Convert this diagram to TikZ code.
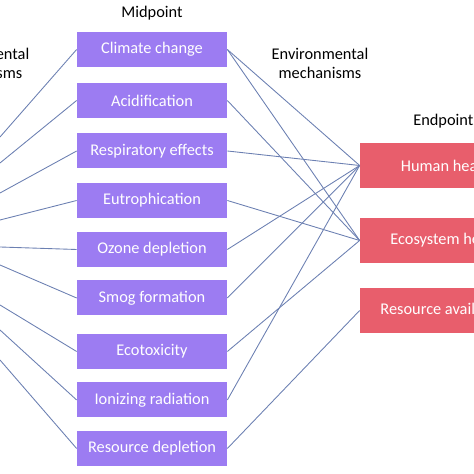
\documentclass[tikz,border=0pt]{standalone}
\usepackage{fontspec}
\setmainfont{Carlito}
\usepackage{tikz}
\definecolor{midpurple}{RGB}{156,124,242}
\definecolor{endred}{RGB}{232,94,108}
\definecolor{linkblue}{RGB}{108,128,178}
\tikzset{
	midnode/.style={rectangle, fill=midpurple, text=white, minimum width=3cm, minimum height=0.7cm, inner sep=0pt, font=\fontsize{9.3pt}{10.8pt}\selectfont},
	endnode/.style={rectangle, fill=endred, text=white, minimum width=3.52cm, minimum height=0.9cm, inner sep=0pt, font=\fontsize{9.3pt}{10.8pt}\selectfont},
	headnode/.style={align=center, font=\fontsize{9.3pt}{10.8pt}\selectfont}
}
\begin{document}
\begin{tikzpicture}
			\useasboundingbox (0,0) rectangle (9.48,9.48);
			\clip (0,0) rectangle (9.48,9.48);
			
			\node[headnode] (midhead) at (3.04,9.22) {Midpoint};
			\node[headnode] (envright) at (6.4,8.21) {Environmental\\mechanisms};
			\node[headnode] (envleft) at (-0.38,8.21) {Environmental\\mechanisms};
			\node[headnode] (endhead) at (8.93,7.06) {Endpoints};
			
			\node[midnode] (climate) at (3.04,8.49) {Climate change};
			\node[midnode] (acid) at (3.04,7.47) {Acidification};
			\node[midnode] (resp) at (3.04,6.46) {Respiratory effects};
			\node[midnode] (eutro) at (3.04,5.47) {Eutrophication};
			\node[midnode] (ozone) at (3.04,4.49) {Ozone depletion};
			\node[midnode] (smog) at (3.04,3.52) {Smog formation};
			\node[midnode] (ecotox) at (3.04,2.45) {Ecotoxicity};
			\node[midnode] (ioniz) at (3.04,1.48) {Ionizing radiation};
			\node[midnode] (resdep) at (3.04,0.51) {Resource depletion};
			
			\node[endnode] (human) at (8.96,6.17) {Human health};
			\node[endnode] (ecosys) at (8.96,4.67) {Ecosystem health};
			\node[endnode] (resav) at (8.96,3.27) {Resource availability};
			
			\coordinate (l1) at (0,6.74);
			\coordinate (l2) at (0,6.22);
			\coordinate (l3) at (0,5.62);
			\coordinate (l4) at (0,5.08);
			\coordinate (l5) at (0,4.54);
			\coordinate (l6) at (0,4.18);
			\coordinate (l7) at (0,3.38);
			\coordinate (l8) at (0,2.88);
			\coordinate (l9) at (0,2.28);
			
			\draw [linkblue,line width=0.5pt] (l1)-- (climate.west);
			\draw [linkblue,line width=0.5pt] (l2)-- (acid.west);
			\draw [linkblue,line width=0.5pt] (l3)-- (resp.west);
			\draw [linkblue,line width=0.5pt] (l4)-- (eutro.west);
			\draw [linkblue,line width=0.5pt] (l5)-- (ozone.west);
			\draw [linkblue,line width=0.5pt] (l6)-- (smog.west);
			\draw [linkblue,line width=0.5pt] (l7)-- (ecotox.west);
			\draw [linkblue,line width=0.5pt] (l8)-- (ioniz.west);
			\draw [linkblue,line width=0.5pt] (l9)-- (resdep.west);
			
			\draw [linkblue,line width=0.5pt] (climate.east)-- (human.west);
			\draw [linkblue,line width=0.5pt] (climate.east)-- (ecosys.west);
			\draw [linkblue,line width=0.5pt] (acid.east)-- (ecosys.west);
			\draw [linkblue,line width=0.5pt] (resp.east)-- (human.west);
			\draw [linkblue,line width=0.5pt] (eutro.east)-- (ecosys.west);
			\draw [linkblue,line width=0.5pt] (ozone.east)-- (human.west);
			\draw [linkblue,line width=0.5pt] (smog.east)-- (human.west);
			\draw [linkblue,line width=0.5pt] (ecotox.east)-- (ecosys.west);
			\draw [linkblue,line width=0.5pt] (ioniz.east)-- (human.west);
			\draw [linkblue,line width=0.5pt] (resdep.east)-- (resav.west);
		\end{tikzpicture}
\end{document}
